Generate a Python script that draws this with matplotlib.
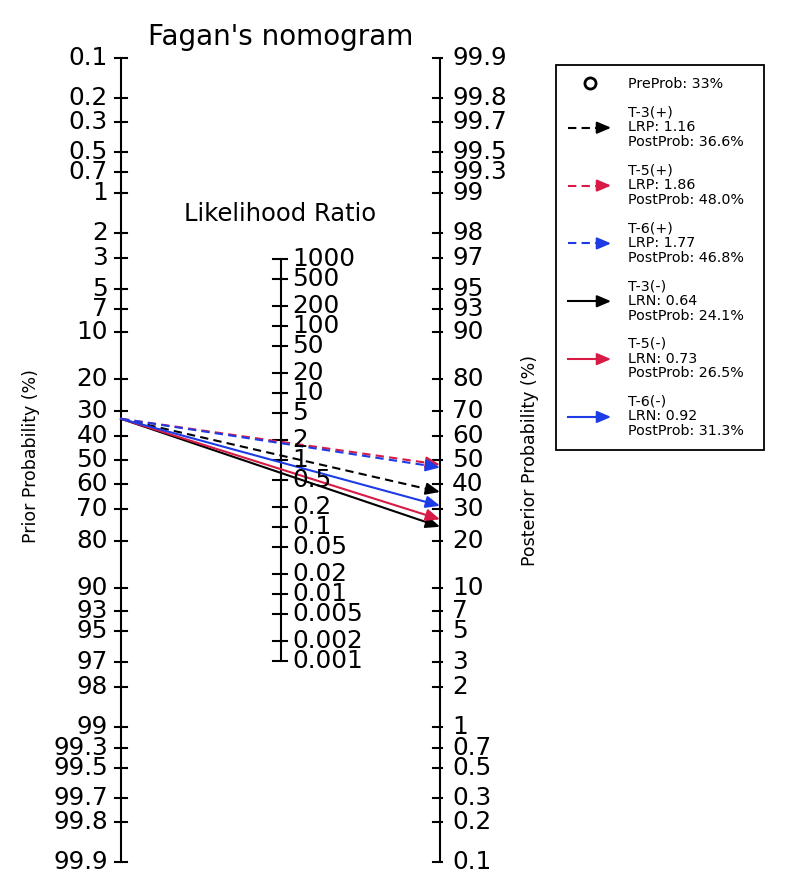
import matplotlib
matplotlib.use("Agg")
import matplotlib.pyplot as plt
import numpy as np
from matplotlib.legend_handler import HandlerBase
from matplotlib.lines import Line2D
from matplotlib.patches import FancyArrowPatch

# data
pre_prob = 33
tests = ["T-3(+)", "T-5(+)", "T-6(+)", "T-3(-)", "T-5(-)", "T-6(-)"]
lr_names = ["LRP", "LRP", "LRP", "LRN", "LRN", "LRN"]
lr_values = [1.16, 1.86, 1.77, 0.64, 0.73, 0.92]
post_probs = [36.6, 48.0, 46.8, 24.1, 26.5, 31.3]
colors = ["black", "#d81b45", "#1e3ce6", "black", "#d81b45", "#1e3ce6"]
styles = ["dashed", "dashed", "dashed", "solid", "solid", "solid"]

prob_ticks = [0.1, 0.2, 0.3, 0.5, 0.7, 1, 2, 3, 5, 7, 10, 20, 30, 40, 50, 60,
              70, 80, 90, 93, 95, 97, 98, 99, 99.3, 99.5, 99.7, 99.8, 99.9]
lr_ticks = [1000, 500, 200, 100, 50, 20, 10, 5, 2, 1, 0.5, 0.2, 0.1, 0.05,
            0.02, 0.01, 0.005, 0.002, 0.001]

W, H = 785, 890
# pixel layout of the three scales
X_LEFT, X_RIGHT = 121, 440
Y_MID, PX_PER_LOGIT = 460, 58.2

LW = 1.5
TICK_FS = 17.8
DASH = (4, 2.5)
HEAD = "-|>,head_length=0.7,head_width=0.3"


def logit(p):
    p = np.asarray(p, dtype=float) / 100
    return np.log(p / (1 - p))


def px(x):
    return (x - X_LEFT) / (X_RIGHT - X_LEFT)


def py(y):
    return (Y_MID - y) / PX_PER_LOGIT


def fmt(v):
    return f"{v:g}"


fig = plt.figure(figsize=(W / 100, H / 100), dpi=100)
ax = fig.add_axes([0, 0, 1, 1])
ax.set_xlim(px(0), px(W))
ax.set_ylim(py(H), py(0))
ax.axis("off")

# left axis: prior probability (top = low)
y_left = -logit(prob_ticks)
ax.plot([0, 0], [y_left.min(), y_left.max()], color="black", lw=LW)
for v, y in zip(prob_ticks, y_left):
    ax.plot([px(X_LEFT - 6), px(X_LEFT + 6)], [y, y], color="black", lw=LW)
    ax.text(px(108), y, fmt(v), ha="right", va="center", fontsize=TICK_FS)

# right axis: posterior probability (top = high)
y_right = logit(prob_ticks)
ax.plot([1, 1], [y_right.min(), y_right.max()], color="black", lw=LW)
for v, y in zip(prob_ticks, y_right):
    ax.plot([px(X_RIGHT - 7), px(X_RIGHT + 2)], [y, y], color="black", lw=LW)
    ax.text(px(452), y, fmt(v), ha="left", va="center", fontsize=TICK_FS)

# middle axis: likelihood ratio
y_lr = np.log(lr_ticks) / 2
ax.plot([0.5, 0.5], [y_lr.min(), y_lr.max()], color="black", lw=LW)
for v, y in zip(lr_ticks, y_lr):
    ax.plot([px(273), px(287)], [y, y], color="black", lw=LW)
    ax.text(px(292), y, fmt(v), ha="left", va="center", fontsize=TICK_FS)

ax.text(0.5, py(37), "Fagan's nomogram", ha="center", va="center", fontsize=20)
ax.text(0.5, py(214), "Likelihood Ratio", ha="center", va="center", fontsize=17.5)
ax.text(px(31), py(456), "Prior Probability (%)", rotation=90, ha="center",
        va="center", fontsize=12.5)
ax.text(px(530), py(460), "Posterior Probability (%)", rotation=90,
        ha="center", va="center", fontsize=12.5)

# arrows from prior through LR to posterior
y0 = -logit(pre_prob)
handles = []
for col, ls, post in zip(colors, styles, post_probs):
    y1 = logit(post)
    dash = (0, DASH) if ls == "dashed" else "-"
    line, = ax.plot([0, 0.98], [y0, y0 + 0.98 * (y1 - y0)], color=col,
                    lw=LW, linestyle=dash)
    ax.annotate("", xy=(1, y1), xytext=(0.96, y0 + 0.96 * (y1 - y0)),
                arrowprops=dict(arrowstyle=HEAD, color=col, lw=LW,
                                mutation_scale=12, shrinkA=0, shrinkB=0))
    handles.append(line)


class ArrowHandler(HandlerBase):
    def create_artists(self, legend, orig_handle, xdescent, ydescent, width,
                       height, fontsize, trans):
        y = height / 2 - ydescent
        x_end = width - xdescent
        line = Line2D([-xdescent, x_end - 5], [y, y],
                      color=orig_handle.get_color(), lw=LW)
        if orig_handle.get_linestyle() == "--":
            line.set_linestyle((0, DASH))
        head = FancyArrowPatch((x_end - 10, y), (x_end, y), arrowstyle=HEAD,
                               mutation_scale=12, color=orig_handle.get_color(),
                               lw=LW, shrinkA=0, shrinkB=0)
        line.set_transform(trans)
        head.set_transform(trans)
        return [line, head]


pre_handle = Line2D([], [], marker="o", linestyle="none", markerfacecolor="none",
                    markeredgecolor="black", markersize=8, markeredgewidth=2)
labels = [f"PreProb: {pre_prob}%"]
for t, n, v, p in zip(tests, lr_names, lr_values, post_probs):
    labels.append(f"{t}\n{n}: {v:.2f}\nPostProb: {p:.1f}%")

leg = fig.legend([pre_handle] + handles, labels, loc="upper left",
                 bbox_to_anchor=(556 / W, 0, 208 / W, 1 - 65 / H),
                 mode="expand", borderaxespad=0,
                 fontsize=10.3, handlelength=3.0, handletextpad=1.2,
                 borderpad=0.85, labelspacing=1.0, fancybox=False,
                 edgecolor="black", framealpha=1,
                 handler_map={h: ArrowHandler() for h in handles})
leg.get_frame().set_linewidth(1.3)
for txt in leg.get_texts():
    txt.set_linespacing(1.07)

fig.savefig("out.png", dpi=100)
